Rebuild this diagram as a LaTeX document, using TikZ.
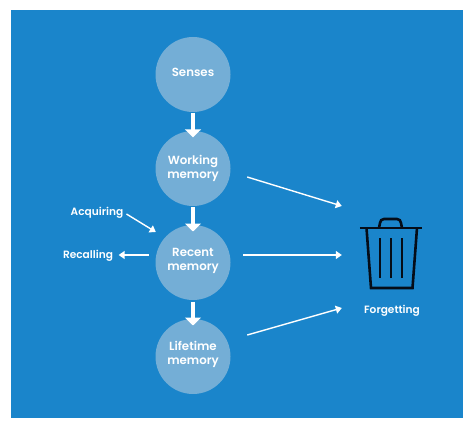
\documentclass[tikz,border=0pt]{standalone}
\usepackage{fontspec}
\setmainfont{Poppins}[BoldFont={Poppins SemiBold}]
\usetikzlibrary{arrows.meta}
\definecolor{bgblue}{HTML}{1A85CB}
\definecolor{circ}{HTML}{74AED6}
\definecolor{ink}{HTML}{050D18}
\tikzset{
  memory/.style={circle,fill=circ,minimum size=75pt,inner sep=0pt},
  memtext/.style={align=center,text=white,inner sep=0pt,font=\fontsize{11.8}{14}\selectfont\bfseries},
  lbl/.style={text=white,inner sep=0pt,font=\fontsize{10.6}{12}\selectfont\bfseries},
  flow/.style={draw=white,line width=3.2pt,-{Triangle[length=8pt,width=16pt]}},
  thin arrow/.style={draw=white,line width=1.4pt,-{Triangle[length=6pt,width=8pt]}},
  trashline/.style={draw=ink,line width=2.6pt,line join=miter},
}
\begin{document}
\begin{tikzpicture}[x=1pt,y=-1pt]
\useasboundingbox (0,0) rectangle (474,433);
\fill[white] (0,0) rectangle (474,433);
\fill[bgblue] (11,10) rectangle (463,418);
\node[memory] (senses) at (193,74.5) {};
\node[memory] (working) at (193,168.5) {};
\node[memory] (recent) at (193,262.5) {};
\node[memory] (lifetime) at (193,356.5) {};
\node[memtext] (sensesText) at (193,72) {Senses};
\node[memtext] (workingText) at (193,168) {Working\\memory};
\node[memtext] (recentText) at (193,260.5) {Recent\\memory};
\node[memtext] (lifetimeText) at (193,354) {Lifetime\\memory};
\node[lbl] (acquiring) at (97,212.5) {Acquiring};
\node[lbl] (recalling) at (88,255.5) {Recalling};
\node[lbl] (forgetting) at (392,310.5) {Forgetting};
\node[minimum width=62pt,minimum height=69pt,inner sep=0pt] (trash) at (391,253.5) {};
% trash can
\draw[trashline] (trash.north west |- 0,228) -- (trash.north east |- 0,228);
\draw[trashline] (379,228) -- (380,223) arc[start angle=180,end angle=270,radius=4] -- (397,219) arc[start angle=-90,end angle=0,radius=4] -- (402,228);
\draw[trashline] (366.5,228) -- (371,288) -- (412.5,288) -- (417,228);
\draw[trashline] (380,238) -- (380,278);
\draw[trashline] (391,238) -- (391,278);
\draw[trashline] (402,238) -- (402,278);
% flow
\draw[flow] ([shift={(0,0.5)}]senses.south) -- ([shift={(0,6.5)}]working.north);
\draw[flow] ([shift={(0,1)}]working.south) -- ([shift={(0,6.7)}]recent.north);
\draw[flow] ([shift={(0,1.5)}]recent.south) -- ([shift={(0,6.7)}]lifetime.north);
% side arrows
\draw[thin arrow] ([shift={(3,1.5)}]acquiring.east) -- ([shift={(0.5,-30.5)}]recent.west);
\draw[thin arrow] ([shift={(-6.5,-7.5)}]recent.west) -- ([shift={(5.5,-0.5)}]recalling.east);
\draw[thin arrow] ([shift={(16.5,8.5)}]working.east) -- ([shift={(-18,-47.5)}]trash.west);
\draw[thin arrow] ([shift={(12.5,-7.5)}]recent.east) -- ([shift={(-18,1.5)}]trash.west);
\draw[thin arrow] ([shift={(16.5,-21.5)}]lifetime.east) -- ([shift={(-18,54.5)}]trash.west);
\end{tikzpicture}
\end{document}
